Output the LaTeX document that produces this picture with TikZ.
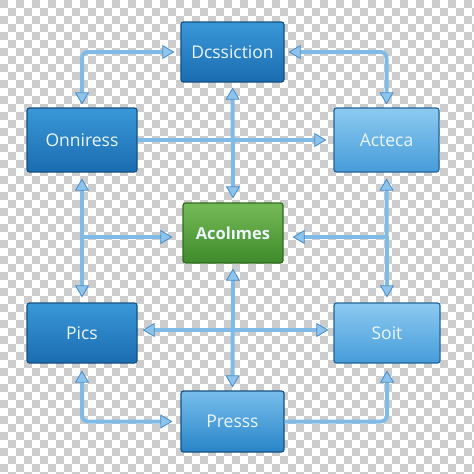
\documentclass[tikz,border=0pt]{standalone}
\usepackage{fontspec}
\setmainfont{Open Sans}
\usetikzlibrary{arrows.meta}
\definecolor{chk}{RGB}{205,205,205}
\definecolor{dbTop}{RGB}{58,152,216}
\definecolor{dbBot}{RGB}{26,108,176}
\definecolor{dbEdge}{RGB}{22,80,130}
\definecolor{lbTop}{RGB}{140,202,240}
\definecolor{lbBot}{RGB}{70,156,218}
\definecolor{lbEdge}{RGB}{36,100,152}
\definecolor{pbTop}{RGB}{120,190,236}
\definecolor{pbBot}{RGB}{40,132,200}
\definecolor{gTop}{RGB}{118,186,88}
\definecolor{gBot}{RGB}{62,138,42}
\definecolor{gEdge}{RGB}{46,108,30}
\definecolor{txt}{RGB}{236,246,252}
\definecolor{linec}{RGB}{128,186,230}
\definecolor{tipfill}{RGB}{140,196,236}
\definecolor{tipdraw}{RGB}{70,140,200}
\tikzset{
  box/.style={rounded corners=2.5pt, line width=1.2pt, text=txt,
    font=\fontsize{17.5}{20}\selectfont, inner sep=0pt},
  darkbox/.style={box, draw=dbEdge, top color=dbTop, bottom color=dbBot},
  lightbox/.style={box, draw=lbEdge, top color=lbTop, bottom color=lbBot},
  midbox/.style={box, draw=dbEdge, top color=pbTop, bottom color=pbBot},
  greenbox/.style={box, draw=gEdge, top color=gTop, bottom color=gBot,
    font=\fontsize{16.5}{20}\selectfont\bfseries},
  link/.style={draw=linec, line width=4pt, rounded corners=6pt},
  >={Triangle[length=12pt,width=14pt,line width=0.8pt,fill=tipfill,color=tipdraw]}
}
\begin{document}
\begin{tikzpicture}[x=1pt,y=-1pt]
\useasboundingbox (0,0) rectangle (474,474);
\fill[white] (0,0) rectangle (474,474);
\begin{scope}
\clip (0,0) rectangle (474,474);
\foreach \i in {0,...,59}{
  \pgfmathtruncatemacro\off{mod(\i,2)}
  \foreach \j in {0,2,...,58}{
    \fill[chk] (\i*8,{(\j+\off)*8}) rectangle ++(8,8);
  }
}
\end{scope}

\node[darkbox, minimum width=103pt, minimum height=60pt] (Dcs) at (232.5,52) {Dcssiction};
\node[darkbox, minimum width=110pt, minimum height=64pt] (Onn) at (82,140) {Onniress};
\node[lightbox, minimum width=105pt, minimum height=64pt] (Act) at (386.5,140) {Acteca};
\node[greenbox, minimum width=100pt, minimum height=60pt] (Acol) at (233,233) {Acolımes};
\node[darkbox, minimum width=110pt, minimum height=60pt] (Pics) at (82,333) {Pics};
\node[lightbox, minimum width=106pt, minimum height=60pt] (Soit) at (387,333) {Soit};
\node[midbox, minimum width=103pt, minimum height=61pt] (Pres) at (232.5,421.5) {Presss};

\draw[link,<->,shorten <=6pt,shorten >=3pt] (Dcs.west) -| (Onn.north);
\draw[link,<->,shorten <=4pt,shorten >=3pt] (Dcs.east) -| (Act.north);
\draw[link,->,shorten >=7pt] (Onn.east) -- (Act.west);
\draw[link,<->,shorten <=5pt,shorten >=4pt] (Dcs.south) -- (Acol.north);
\draw[link,<->,shorten <=6pt,shorten >=5pt] (Onn.south) -- (Pics.north);
\draw[link,<->,shorten <=6pt,shorten >=5pt] (Act.south) -- (Soit.north);
\coordinate (jl) at (82,237);
\coordinate (jr) at (386.5,237);
\draw[link,->,shorten >=10pt] (jl) -- (Acol.west |- jl);
\draw[link,->,shorten >=9pt] (jr) -- (Acol.east |- jr);
\draw[link,<->,shorten <=5pt,shorten >=5pt] ([yshift=3pt]Pics.east) -- ([yshift=3pt]Soit.west);
\draw[link,<->,shorten <=5pt,shorten >=3pt] (Acol.south) -- (Pres.north);
\draw[link,<->,shorten <=7pt,shorten >=8pt] (Pics.south) |- (Pres.west);
\draw[link,->,shorten >=7pt] (Pres.east) -| (Soit.south);
\end{tikzpicture}
\end{document}
